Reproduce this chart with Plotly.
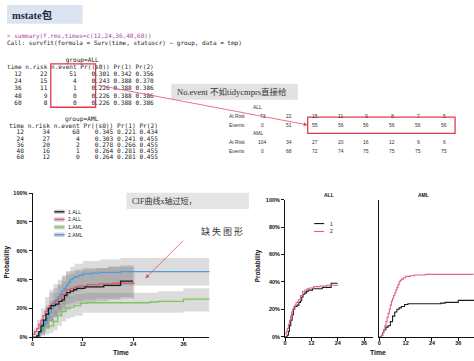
import plotly.graph_objects as go

W, H = 474, 361
def X(px): return px / W
def Y(py): return 1 - py / H

# ---------------- console output data ----------------
cmd_line = "> summary(f.rms,times=c(12,24,36,48,60))"
call_line = "Call: survfit(formula = Surv(time, statuscr) ~ group, data = tmp)"
header_cols = ["time", "n.risk", "n.event", "Pr((s0))", "Pr(1)", "Pr(2)"]
sum_times = [12, 24, 36, 48, 60]
all_nrisk = [22, 15, 11, 9, 8]
all_nevent = [51, 4, 1, 0, 0]
all_pr0 = [0.301, 0.243, 0.226, 0.226, 0.226]
all_pr1 = [0.342, 0.388, 0.388, 0.388, 0.388]
all_pr2 = [0.356, 0.370, 0.386, 0.386, 0.386]
aml_nrisk = [34, 27, 20, 16, 12]
aml_nevent = [68, 4, 2, 1, 0]
aml_pr0 = [0.345, 0.303, 0.278, 0.264, 0.264]
aml_pr1 = [0.221, 0.241, 0.266, 0.281, 0.281]
aml_pr2 = [0.434, 0.455, 0.455, 0.455, 0.455]

# ---------------- risk table data ----------------
risk_groups = ["ALL", "AML"]
risk_rows = ["At Risk", "Events"]
all_at_risk = [73, 22, 15, 11, 9, 8, 7, 5]
all_events = [0, 51, 55, 56, 56, 56, 56, 56]
aml_at_risk = [104, 34, 27, 20, 16, 12, 9, 6]
aml_events = [0, 68, 72, 74, 75, 75, 75, 75]

# ---------------- CIF curves ----------------
all1_t = [0, 1.0, 1.5, 2.0, 2.6, 3.2, 3.8, 4.4, 5.5, 6.3, 7.0, 7.6, 8.2, 9.0, 9.8, 10.5, 12.5, 17.0, 21.0, 24.0]
all1_p = [0, 0.01, 0.04, 0.08, 0.12, 0.16, 0.20, 0.22, 0.23, 0.25, 0.26, 0.29, 0.31, 0.32, 0.33, 0.34, 0.35, 0.36, 0.39, 0.39]
all2_t = [0, 0.5, 1, 1.5, 2, 2.5, 3, 3.5, 4, 4.5, 5, 6, 7, 8, 9, 10, 11, 13, 16, 19, 24.3]
all2_p = [0.02, 0.04, 0.06, 0.09, 0.12, 0.15, 0.18, 0.20, 0.22, 0.23, 0.25, 0.27, 0.30, 0.33, 0.34, 0.35, 0.355, 0.365, 0.37, 0.375, 0.375]
aml1_t = [0, 1.0, 1.5, 2.0, 3.0, 4.0, 5.0, 6.0, 7.0, 8.0, 9.0, 10.0, 11.5, 13.0, 28.0, 30.0, 36.0, 43.0]
aml1_p = [0, 0.01, 0.03, 0.05, 0.07, 0.08, 0.11, 0.15, 0.18, 0.20, 0.21, 0.22, 0.235, 0.24, 0.245, 0.25, 0.265, 0.27]
aml2_t = [0, 1.0, 1.5, 2.0, 2.5, 3.0, 3.5, 4.0, 4.5, 5.0, 5.5, 6.0, 6.5, 7.0, 7.5, 8.0, 8.5, 9.0, 9.5, 10.0, 11.0, 12.0, 14.0, 16.0, 21.0, 43.0]
aml2_p = [0, 0.01, 0.03, 0.05, 0.08, 0.11, 0.14, 0.17, 0.20, 0.23, 0.26, 0.28, 0.30, 0.32, 0.34, 0.36, 0.38, 0.40, 0.41, 0.42, 0.43, 0.44, 0.445, 0.45, 0.455, 0.455]

# confidence bands
all1_ci_t = [0, 1, 2, 3, 4, 5, 6, 7, 8, 9, 10, 12, 15, 18, 21, 24]
all1_lo = [0, 0, 0.02, 0.06, 0.11, 0.14, 0.15, 0.17, 0.20, 0.22, 0.23, 0.24, 0.25, 0.26, 0.28, 0.28]
all1_hi = [0, 0.02, 0.13, 0.22, 0.31, 0.34, 0.36, 0.39, 0.43, 0.44, 0.46, 0.47, 0.48, 0.49, 0.50, 0.50]
all2_ci_t = [0, 1, 2, 3, 4, 5, 6, 7, 8, 9, 10, 12, 15, 18, 24.3]
all2_lo = [0, 0.01, 0.04, 0.08, 0.11, 0.14, 0.17, 0.20, 0.23, 0.24, 0.25, 0.26, 0.27, 0.27, 0.27]
all2_hi = [0.06, 0.12, 0.20, 0.28, 0.33, 0.37, 0.40, 0.43, 0.45, 0.46, 0.47, 0.48, 0.48, 0.49, 0.49]
aml1_ci_t = [0, 1, 2, 3, 4, 5, 6, 7, 8, 9, 10, 12, 20, 30, 36, 42.2]
aml1_lo = [0, 0, 0.01, 0.02, 0.03, 0.05, 0.08, 0.11, 0.13, 0.14, 0.15, 0.17, 0.17, 0.17, 0.18, 0.18]
aml1_hi = [0, 0.02, 0.09, 0.13, 0.15, 0.19, 0.23, 0.26, 0.28, 0.29, 0.30, 0.31, 0.31, 0.32, 0.34, 0.35]
aml2_ci_t = [0, 1, 2, 3, 4, 5, 6, 7, 8, 9, 10, 12, 16, 21, 42.2]
aml2_lo = [0, 0, 0.02, 0.06, 0.11, 0.15, 0.19, 0.23, 0.27, 0.30, 0.32, 0.34, 0.35, 0.36, 0.36]
aml2_hi = [0, 0.03, 0.10, 0.18, 0.25, 0.31, 0.37, 0.42, 0.46, 0.49, 0.51, 0.53, 0.54, 0.55, 0.55]

legend_labels = ["1.ALL", "2.ALL", "1.AML", "2.AML"]
facet_labels = ["ALL", "AML"]
facet_legend = ["1", "2"]
x_ticks = [0, 12, 24, 36]
y_ticks = [0, 0.2, 0.4, 0.6, 0.8, 1.0]
y_ticktext = ["0%", "20%", "40%", "60%", "80%", "100%"]

C_BLACK = "#1c1c1c"
C_RED = "#dc5a72"
C_GREEN = "#7cc65c"
C_BLUE = "#4b9be0"
C_PINK = "#e3627e"
BAND = "rgba(120,120,120,0.26)"

fig = go.Figure()

def band(t, lo, hi, xa="x", ya="y"):
    fig.add_trace(go.Scatter(x=t, y=lo, mode="lines", line=dict(width=0, shape="hv"),
                             showlegend=False, hoverinfo="skip", xaxis=xa, yaxis=ya))
    fig.add_trace(go.Scatter(x=t, y=hi, mode="lines", line=dict(width=0, shape="hv"),
                             fill="tonexty", fillcolor=BAND, showlegend=False,
                             hoverinfo="skip", xaxis=xa, yaxis=ya))

def curve(t, p, color, xa="x", ya="y", w=1.3):
    fig.add_trace(go.Scatter(x=t, y=p, mode="lines", line=dict(color=color, width=w, shape="hv"),
                             showlegend=False, xaxis=xa, yaxis=ya))

band(aml1_ci_t, aml1_lo, aml1_hi)
band(aml2_ci_t, aml2_lo, aml2_hi)
band(all1_ci_t, all1_lo, all1_hi)
band(all2_ci_t, all2_lo, all2_hi)
curve(aml1_t, aml1_p, C_GREEN)
curve(aml2_t, aml2_p, C_BLUE)
curve(all2_t, all2_p, C_RED)
curve(all1_t, all1_p, C_BLACK)

# right facets
curve(all1_t, all1_p, C_BLACK, "x2", "y2", 1.1)
curve(all2_t, all2_p, C_PINK, "x2", "y2", 1.1)
curve(aml1_t, aml1_p, C_BLACK, "x3", "y3", 1.1)
curve(aml2_t, aml2_p, C_PINK, "x3", "y3", 1.1)

tickfont = dict(family="Liberation Sans", size=5.5, color="#111", weight="bold")
axis_common = dict(showgrid=False, zeroline=False, showline=True, linecolor="#111",
                   linewidth=1.1, ticklen=3, tickwidth=1, tickcolor="#111",
                   tickfont=tickfont, fixedrange=True)

fig.update_layout(
    width=W, height=H, margin=dict(l=0, r=0, t=0, b=0),
    paper_bgcolor="white", plot_bgcolor="rgba(0,0,0,0)", showlegend=False,
    xaxis=dict(domain=[X(30.7), X(208.3)], range=[0, 42.2], tickvals=x_ticks, anchor="y",
               ticks="outside", ticklabelstandoff=-2, **axis_common),
    yaxis=dict(domain=[Y(340), Y(193.3)], range=[0, 1], tickvals=y_ticks, ticktext=y_ticktext,
               anchor="x", ticks="outside", **axis_common),
    xaxis2=dict(domain=[X(284.3), X(373)], range=[0, 40.3], tickvals=x_ticks, anchor="y2",
                ticks="outside", ticklabelstandoff=-2, **axis_common),
    yaxis2=dict(domain=[Y(339.3), Y(200)], range=[0, 1], tickvals=y_ticks, ticktext=y_ticktext,
                anchor="x2", ticks="outside", **axis_common),
    xaxis3=dict(domain=[X(379), 1.0], range=[0, 43.2], tickvals=x_ticks, anchor="y3",
                ticks="outside", ticklabelstandoff=-2, **axis_common),
    yaxis3=dict(domain=[Y(339.3), Y(200)], range=[0, 1], tickvals=y_ticks, showticklabels=False,
                anchor="x3", ticks="", **axis_common),
)

shapes = []
ann = []

def rect(x0, y0, x1, y1, fill=None, line=None, lw=1.2):
    shapes.append(dict(type="rect", xref="paper", yref="paper", x0=X(x0), x1=X(x1), y0=Y(y1), y1=Y(y0),
                       fillcolor=fill if fill else "rgba(0,0,0,0)",
                       line=dict(color=line if line else "rgba(0,0,0,0)", width=lw if line else 0),
                       layer="below" if fill else "above"))

def text(x, y, s, size=6, color="#222", family="DejaVu Sans Mono", xanchor="left", weight="normal", angle=0):
    ann.append(dict(xref="paper", yref="paper", x=X(x), y=Y(y), text=s, showarrow=False,
                    xanchor=xanchor, yanchor="middle", textangle=angle, borderpad=0,
                    font=dict(size=size, color=color, family=family, weight=weight)))

NB = "\u00a0"
def mono(s): return s.replace(" ", NB)

# title box
rect(5, 2, 81, 21, fill="#dbe5f1")
text(9, 12.5, "mstate包", size=10.5, color="#1f2a44", family="Liberation Serif, Noto Sans CJK SC", weight="bold")

# console
text(4.5, 34, mono(cmd_line), size=6, color="#a8459e")
text(4.5, 41, mono(call_line), size=6, color="#222")

def header_line():
    return "%4s%7s%8s%9s%6s%6s" % tuple(header_cols)

def row_line(t, nr, ne, p0, p1, p2):
    return "%4d%7d%8d%9.3f%6.3f%6.3f" % (t, nr, ne, p0, p1, p2)

text(4.5, 57.5, mono(" " * 16 + "group=" + risk_groups[0]), size=6.1)
text(4.5, 64.5, mono(header_line()), size=6.1)
for i, t in enumerate(sum_times):
    text(4.5, 71.8 + 7.3 * i, mono(row_line(t, all_nrisk[i], all_nevent[i], all_pr0[i], all_pr1[i], all_pr2[i])), size=6.1)

text(6, 118, mono(" " * 15 + "group=" + risk_groups[1]), size=6.2)
text(6, 124.5, mono(header_line()), size=6.2)
for i, t in enumerate(sum_times):
    text(6, 131 + 6.35 * i, mono(row_line(t, aml_nrisk[i], aml_nevent[i], aml_pr0[i], aml_pr1[i], aml_pr2[i])), size=6.2)

rect(49, 62, 94, 106, line="#e23b48", lw=1.3)

# note box
rect(170, 82, 297, 98.5, fill="#e2e2e2")
text(175, 90.5, "No.event 不如tidycmprs直接给", size=8.5, color="#333",
     family="Liberation Serif, Noto Sans CJK SC")

# connector arrow
ann.append(dict(xref="paper", yref="paper", x=X(307), y=Y(124), ax=96 - 307, ay=84 - 124,
                axref="pixel", ayref="pixel", text="", showarrow=True, arrowhead=2, arrowsize=1,
                arrowwidth=0.8, arrowcolor="#e0506a"))

# risk table
col_x = [262 + 26.0 * i for i in range(8)]
rt_font = "Liberation Sans"
text(257, 106, risk_groups[0], size=5, color="#333", family=rt_font, xanchor="center")
text(245.5, 115, risk_rows[0], size=5, color="#333", family=rt_font, xanchor="right")
text(245.5, 124, risk_rows[1], size=5, color="#333", family=rt_font, xanchor="right")
text(258, 132.5, risk_groups[1], size=5, color="#333", family=rt_font, xanchor="center")
text(245.5, 141.5, risk_rows[0], size=5, color="#333", family=rt_font, xanchor="right")
text(245.5, 150, risk_rows[1], size=5, color="#333", family=rt_font, xanchor="right")
for i, cx in enumerate(col_x):
    text(cx, 115, str(all_at_risk[i]), size=5, color="#333", family=rt_font, xanchor="center")
    text(cx, 124, str(all_events[i]), size=5, color="#333", family=rt_font, xanchor="center")
    text(cx, 141.5, str(aml_at_risk[i]), size=5, color="#333", family=rt_font, xanchor="center")
    text(cx, 150, str(aml_events[i]), size=5, color="#333", family=rt_font, xanchor="center")
rect(307, 116, 455, 132.5, line="#e23b48", lw=1.3)

# CIF note box
rect(125, 193, 248, 209.5, fill="#e5e5e5")
text(130, 201.5, "CIF曲线x轴过短，", size=8, color="#333", family="Liberation Serif, Noto Sans CJK SC")
text(199, 232, "缺 失 图 形", size=9, color="#333", family="Noto Sans CJK SC")
ann.append(dict(xref="paper", yref="paper", x=X(144), y=Y(280), ax=183 - 144, ay=241 - 280,
                axref="pixel", ayref="pixel", text="", showarrow=True, arrowhead=2, arrowsize=1,
                arrowwidth=0.8, arrowcolor="#e0506a"))

# left legend
leg_colors = [C_BLACK, C_RED, C_GREEN, C_BLUE]
for i, lab in enumerate(legend_labels):
    yy = 212.3 + 7.8 * i
    rect(52.5, yy - 2.3, 62.8, yy + 2.3, fill="#d2d2d2")
    shapes.append(dict(type="line", xref="paper", yref="paper", x0=X(52.5), x1=X(62.8), y0=Y(yy), y1=Y(yy),
                       line=dict(color=leg_colors[i], width=1.3)))
    text(65, yy, lab, size=5, color="#222", family="Liberation Sans")

# right legend
for i, lab in enumerate(facet_legend):
    yy = 224.3 + 8 * i
    shapes.append(dict(type="line", xref="paper", yref="paper", x0=X(313.5), x1=X(323.5), y0=Y(yy), y1=Y(yy),
                       line=dict(color=[C_BLACK, C_PINK][i], width=1.1)))
    text(328, yy, lab, size=5, color="#222", family="Liberation Sans")

# axis titles
text(5, 263, "Probability", size=6.3, color="#111", family="Liberation Sans", xanchor="center",
     weight="bold", angle=-90)
text(120, 355.5, "Time", size=6.8, color="#111", family="Liberation Sans", xanchor="center", weight="bold")
text(256.7, 267, "Probability", size=6.3, color="#111", family="Liberation Sans", xanchor="center",
     weight="bold", angle=-90)
text(378, 355, "Time", size=6.8, color="#111", family="Liberation Sans", xanchor="center", weight="bold")
text(328.5, 195, facet_labels[0], size=5, color="#111", family="Liberation Sans", xanchor="center", weight="bold")
text(423, 195, facet_labels[1], size=5, color="#111", family="Liberation Sans", xanchor="center", weight="bold")

fig.update_layout(shapes=shapes, annotations=ann)
fig.write_html("out.html", config={"displayModeBar": False},
               post_script="document.body.style.margin='0';document.body.style.overflow='hidden';")
